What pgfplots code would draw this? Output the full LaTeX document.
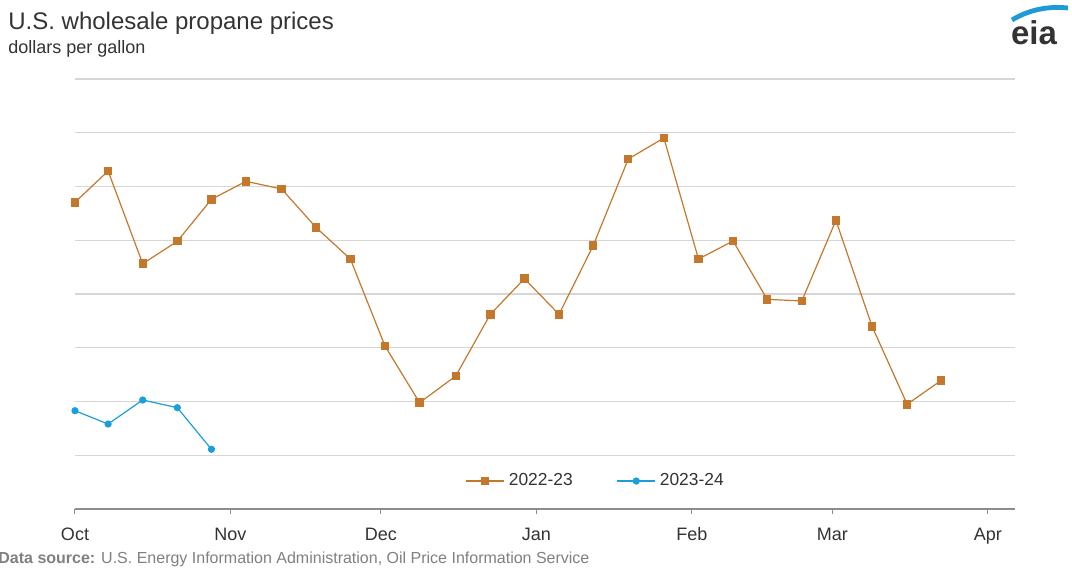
\documentclass[border=0pt]{standalone}
\usepackage{pgfplots}
\pgfplotsset{compat=1.18}
\usepackage{fontspec}
\setmainfont{Liberation Sans}

\definecolor{propaneA}{HTML}{C4782C}
\definecolor{propaneB}{HTML}{1A9FDB}
\definecolor{gridgray}{HTML}{D6D6D6}
\definecolor{axisgray}{HTML}{8C8C8C}
\definecolor{titlegray}{HTML}{333333}
\definecolor{srcgray}{HTML}{808080}
\definecolor{eiablue}{HTML}{1E9AD6}

% weekly prices, x = days since October 1
\pgfplotstableread{
day   price
0     5.706
6.6   6.288
13.5  4.564
20.4  4.981
27.2  5.762
34.1  6.097
41.2  5.953
48.1  5.234
54.9  4.651
61.8  3.033
68.7  1.978
75.9  2.474
82.8  3.622
89.6  4.285
96.5  3.622
103.3 4.899
110.3 6.512
117.4 6.902
124.3 4.651
131.2 4.986
138.0 3.901
144.9 3.870
151.7 5.371
158.9 3.399
165.9 1.948
172.7 2.394
}\seasonA

\pgfplotstableread{
day   price
0     1.829
6.6   1.581
13.5  2.028
20.4  1.885
27.2  1.111
}\seasonB

\begin{document}
\begin{tikzpicture}[x=0.5pt,y=0.5pt]
\useasboundingbox (0,0) rectangle (1072,580);

% headings
\node[anchor=base west, inner sep=0pt, text=titlegray, font=\fontsize{12}{14}\selectfont] at (8,551) {U.S. wholesale propane prices};
\node[anchor=base west, inner sep=0pt, text=titlegray, font=\fontsize{9}{11}\selectfont] at (8,526) {dollars per gallon};

% eia logo
\node[anchor=base, inner sep=0pt, text=titlegray, font=\fontsize{16.5}{18}\bfseries\selectfont] at (1034,535) {eia};
\draw[eiablue, line width=2.4pt] (1012,560) .. controls (1030,571) and (1050,574) .. (1068,572);

% source line
\node[anchor=base west, inner sep=0pt, text=srcgray, font=\fontsize{8}{9}\selectfont] at (-2,17) {\textbf{Data source:} U.S. Energy Information Administration, Oil Price Information Service};

\begin{axis}[
  at={(37.5pt,35.5pt)}, anchor=south west,
  scale only axis,
  width=470pt, height=215pt,
  xmin=0, xmax=187.4,
  ymin=0, ymax=8,
  axis x line*=bottom,
  axis y line*=left,
  y axis line style={draw=none},
  x axis line style={axisgray, line width=0.6pt},
  xtick={0,31,61,92,123,151,182},
  xticklabels={Oct,Nov,Dec,Jan,Feb,Mar,Apr},
  x tick label style={font=\fontsize{9}{10}\selectfont, text=titlegray,
    anchor=base, text height=6.5pt, text depth=0pt, yshift=-13pt},
  tick align=outside,
  major tick length=2.5pt,
  x tick style={axisgray, line width=0.5pt},
  ytick={1,2,3,4,5,6,7,8},
  yticklabels={},
  y tick style={draw=none},
  ymajorgrids,
  grid style={gridgray, line width=0.6pt},
  clip=false,
  legend columns=2,
  legend style={at={(0.555,0.065)}, anchor=center, draw=none, fill=none,
    font=\fontsize{8.7}{10}\selectfont, text=titlegray,
    /tikz/every even column/.append style={column sep=20pt}},
  legend image code/.code={
    \draw[#1, mark repeat=2, mark phase=2] plot coordinates {(0pt,0pt) (9.5pt,0pt) (19pt,0pt)};},
  legend cell align=left,
]
\addplot[propaneA, line width=0.6pt, mark=square*, mark size=1.8pt,
  mark options={fill=propaneA, draw=propaneA}] table[x=day, y=price] {\seasonA};
\addlegendentry{2022-23}
\addplot[propaneB, line width=0.6pt, mark=*, mark size=1.5pt,
  mark options={fill=propaneB, draw=propaneB}] table[x=day, y=price] {\seasonB};
\addlegendentry{2023-24}
\end{axis}
\end{tikzpicture}
\end{document}
